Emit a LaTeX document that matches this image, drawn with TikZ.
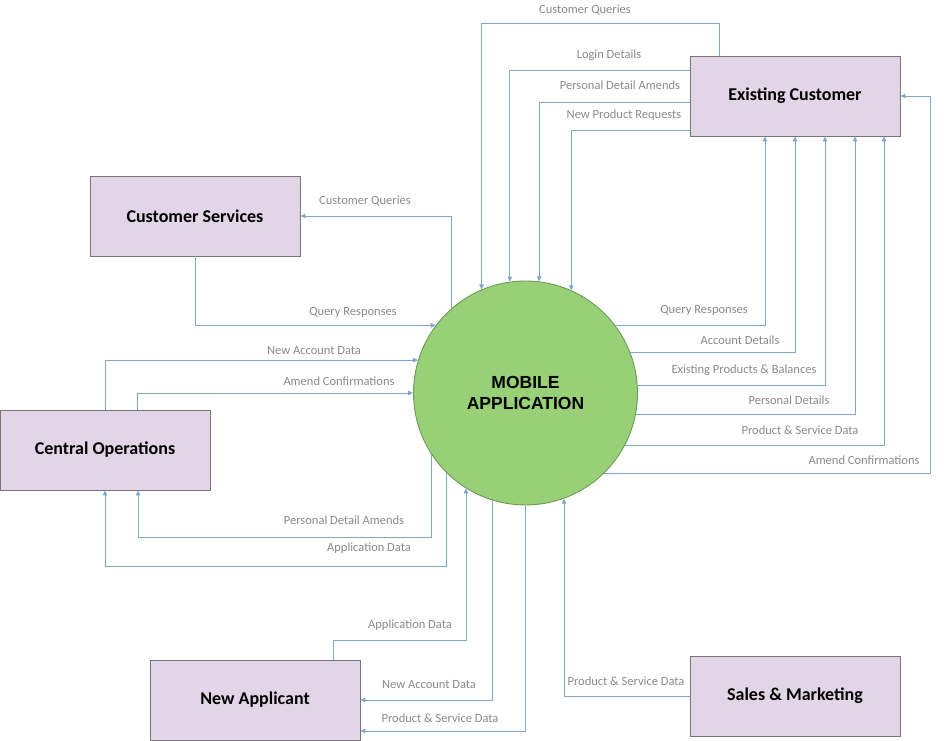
\documentclass[tikz,border=0pt]{standalone}
\usepackage{fontspec}
\setmainfont{Carlito}
\newfontfamily\arialfont{Liberation Sans}
\usetikzlibrary{arrows.meta}

\definecolor{boxfill}{HTML}{E1D5E7}
\definecolor{boxline}{HTML}{767676}
\definecolor{procfill}{HTML}{97D077}
\definecolor{procline}{HTML}{6F9A55}
\definecolor{flowline}{HTML}{7FA7CD}
\definecolor{lblgray}{HTML}{8A8A8A}

\tikzset{
    entity/.style={draw=boxline, fill=boxfill, line width=0.9pt,
        minimum width=210, minimum height=80, inner sep=0pt,
        font=\fontsize{18}{21}\selectfont\bfseries},
    process/.style={circle, draw=procline, fill=procfill, line width=0.9pt,
        minimum size=224, inner sep=0pt, align=center,
        font=\arialfont\fontsize{17.5}{21}\selectfont\bfseries},
    flow/.style={draw=flowline, line width=0.8pt,
        -{Triangle[length=5pt, width=4.5pt]}},
    lbl/.style={text=lblgray, inner sep=0pt,
        font=\fontsize{12.5}{14}\selectfont}
}

\begin{document}
\begin{tikzpicture}[x=1pt, y=-1pt]
    \useasboundingbox (0,0) rectangle (945,741);

    % Process and entities
    \node[process] (ma) at (525.5,393) {MOBILE\\APPLICATION};
    \node[entity] (ec) at (795,96) {Existing Customer};
    \node[entity] (cs) at (195,216) {Customer Services};
    \node[entity] (co) at (105,450) {Central Operations};
    \node[entity] (na) at (255,700) {New Applicant};
    \node[entity] (sm) at (795,696) {Sales \& Marketing};

    % Existing Customer -> Mobile Application
    \draw[flow] ([xshift=30pt]ec.north west) -- ([xshift=30pt]ec.north west |- 0,23) -| (ma.113);
    \draw[flow] (ec.west |- 0,70) -| (ma.98);
    \draw[flow] (ec.west |- 0,102) -| (ma.83);
    \draw[flow] (ec.west |- 0,130) -| (ma.66);
    \node[lbl] (tCQ) at (585,10) {Customer Queries};
    \node[lbl] (tLD) at (609,55) {Login Details};
    \node[lbl] (tPDA) at (620,85) {Personal Detail Amends};
    \node[lbl] (tNPR) at (624,115) {New Product Requests};

    % Mobile Application -> Existing Customer
    \draw[flow] (ma.37) -| ([xshift=-30pt]ec.south);
    \draw[flow] (ma.21) -| (ec.south);
    \draw[flow] (ma.4) -| ([xshift=30pt]ec.south);
    \draw[flow] (ma.349) -| ([xshift=60pt]ec.south);
    \draw[flow] (ma.332) -| ([xshift=89pt]ec.south);
    \draw[flow] (ma.314) -- (ma.314 -| 930,0) |- (ec.east);
    \node[lbl] (tQR) at (704,310) {Query Responses};
    \node[lbl] (tAD) at (740,340) {Account Details};
    \node[lbl] (tEPB) at (744,370) {Existing Products \& Balances};
    \node[lbl] (tPD) at (789,400) {Personal Details};
    \node[lbl] (tPSD) at (800,430) {Product \& Service Data};
    \node[lbl] (tAC) at (864,460) {Amend Confirmations};

    % Customer Services
    \draw[flow] (ma.131) |- (cs.east);
    \draw[flow] (cs.south) |- (ma.143);
    \node[lbl] (tCQcs) at (365,201) {Customer Queries};
    \node[lbl] (tQRcs) at (353,312) {Query Responses};

    % Central Operations
    \draw[flow] (co.north) |- (ma.163);
    \draw[flow] ([xshift=32pt]co.north) |- (ma.west);
    \draw[flow] (ma.213) -- (ma.213 |- 0,537) -| ([xshift=33pt]co.south);
    \draw[flow] (ma.225) -- (ma.225 |- 0,566) -| (co.south);
    \node[lbl] (tNADco) at (314,351) {New Account Data};
    \node[lbl] (tACco) at (339,381) {Amend Confirmations};
    \node[lbl] (tPDAco) at (344,520) {Personal Detail Amends};
    \node[lbl] (tAPco) at (369,548) {Application Data};

    % New Applicant
    \draw[flow] ([xshift=78pt]na.north) -- ([xshift=78pt]na.north |- 0,640) -| (ma.238);
    \draw[flow] (ma.253) |- (na.east);
    \draw[flow] (ma.270) |- ([yshift=-31pt]na.east);
    \node[lbl] (tAPna) at (410,625) {Application Data};
    \node[lbl] (tNADna) at (429,685) {New Account Data};
    \node[lbl] (tPSDna) at (440,718) {Product \& Service Data};

    % Sales & Marketing
    \draw[flow] (sm.west) -| (ma.290);
    \node[lbl] (tPSDsm) at (626,681) {Product \& Service Data};
\end{tikzpicture}
\end{document}
